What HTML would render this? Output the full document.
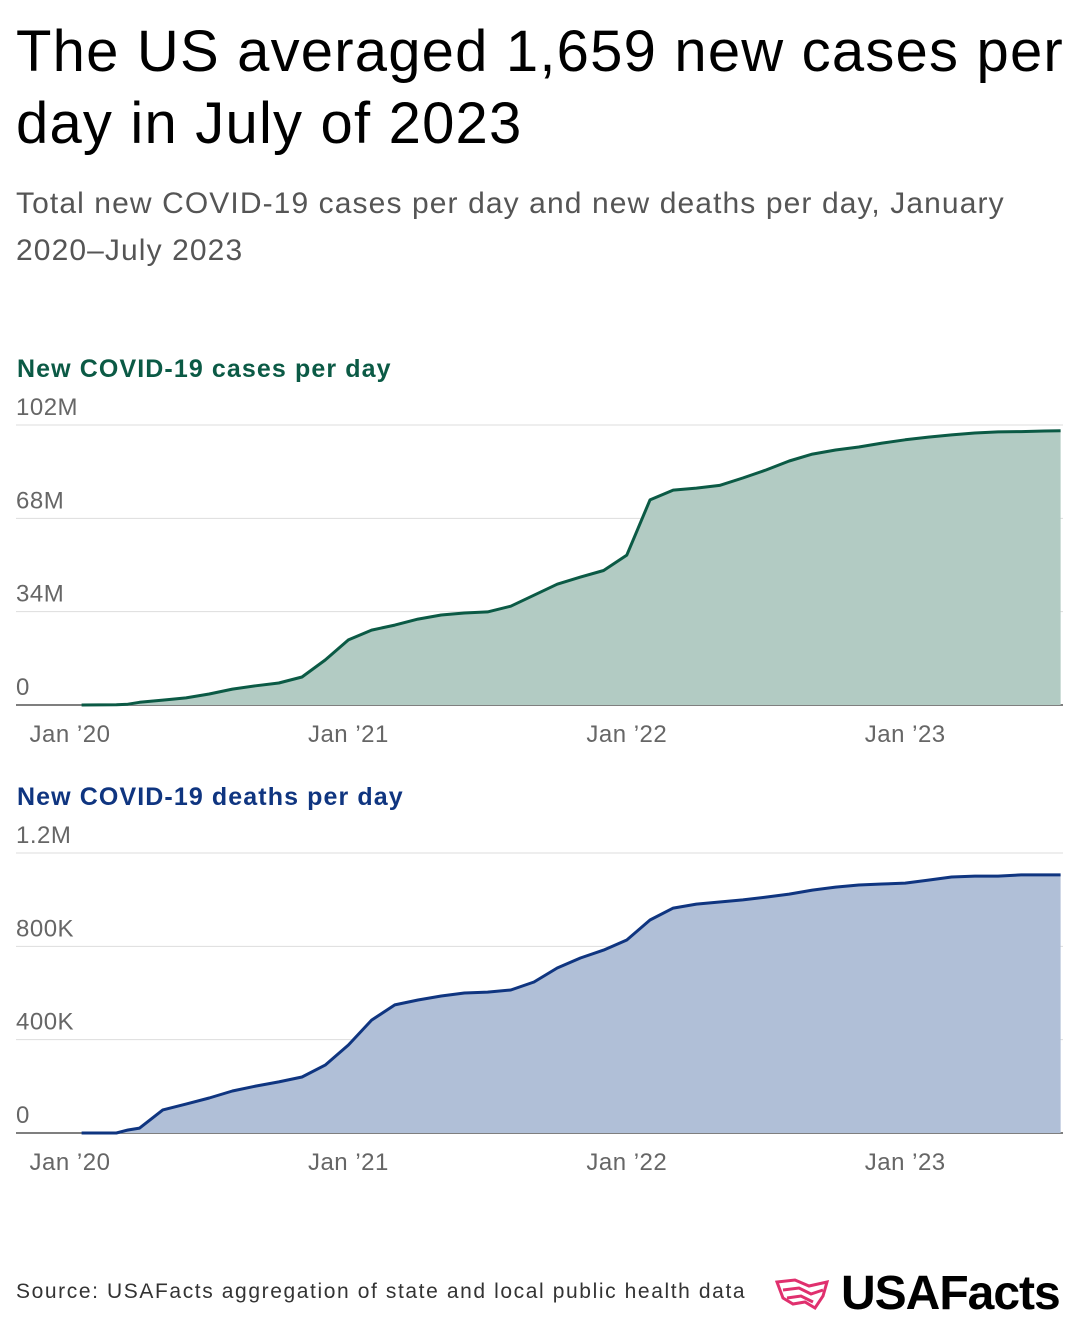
<!DOCTYPE html>
<html><head><meta charset="utf-8">
<style>
body{margin:0;width:1080px;height:1328px;background:#fff;font-family:"Liberation Sans",sans-serif;overflow:hidden;position:relative}
#title{position:absolute;left:16px;top:16px;font-size:58px;line-height:72px;color:#000;font-weight:500;letter-spacing:1.2px;width:1070px;white-space:nowrap}
#sub{position:absolute;left:16px;top:180px;font-size:30px;line-height:47px;color:#555;width:1060px;letter-spacing:1.1px;white-space:nowrap}
#src{position:absolute;left:16px;top:1280px;font-size:21px;color:#333;letter-spacing:1.6px;white-space:nowrap}
#logo{position:absolute;left:775px;top:1266px;display:flex;align-items:center}
#logo span{font-size:48px;font-weight:bold;color:#000;letter-spacing:-1px;margin-left:10px}
svg text{font-family:"Liberation Sans",sans-serif}
</style></head><body>
<div id="title">The US averaged 1,659 new cases per<br>day in July of 2023</div>
<div id="sub">Total new COVID-19 cases per day and new deaths per day, January<br>2020–July 2023</div>
<svg id="chart" width="1080" height="1328" style="position:absolute;left:0;top:0"></svg>
<div id="src">Source: USAFacts aggregation of state and local public health data</div>
<div id="logo">
<svg width="56" height="40" viewBox="0 0 56 40"><g fill="none" stroke="#e0306e" stroke-width="3"><path d="M2 8 L20 6 L34 12 L52 8 L48 22 L40 34 L30 28 L18 30 L8 24 Z"/><path d="M8 16 L24 14 L36 20 L48 16"/><path d="M12 24 L26 22 L38 28"/></g></svg>
<span>USAFacts</span></div>
<script>
const months=[0.5,2,2.5,3,4,5,6,7,8,9,10,11,12,13,14,15,16,17,18,19,20,21,22,23,24,25,26,27,28,29,30,31,32,33,34,35,36,37,38,39,40,41,42,42.7];
const cases=[0,0.1,0.3,1,1.8,2.6,4,5.8,7,8,10.2,16.4,23.7,27.3,29.1,31.3,32.8,33.5,33.9,36,40,44,46.6,49,54.6,74.7,78.3,79,80,82.7,85.6,88.9,91.4,92.9,94,95.4,96.6,97.6,98.4,99.1,99.5,99.6,99.8,99.9];
const deaths=[0,0,13,21,99,124,150,180,201,219,240,291,377,484,549,570,587,600,604,613,647,707,750,784,827,913,964,981,990,999,1011,1024,1041,1054,1063,1067,1071,1084,1097,1101,1101,1106,1106,1106];
const caseTicks=[0,34,68,102];
const caseTickLabels=["0","34M","68M","102M"];
const deathTicks=[0,400,800,1200];
const deathTickLabels=["0","400K","800K","1.2M"];
const xTickMonths=[0,12,24,36];
const xTickLabels=["Jan ’20","Jan ’21","Jan ’22","Jan ’23"];
const NS="http://www.w3.org/2000/svg";
const svg=document.getElementById('chart');
function el(t,a,p){const e=document.createElementNS(NS,t);for(const k in a)e.setAttribute(k,a[k]);(p||svg).appendChild(e);return e;}
const xs=m=>70+m*23.2;
function chart(o){
  const y=v=>o.y0-(v/o.max)*(o.y0-o.y1);
  const g=el('g',{});
  
  
  const t=el('text',{x:17,y:o.y1-48,'font-size':25,'font-weight':'bold',fill:o.color,'letter-spacing':1.1},g);t.textContent=o.label;
  
  
  o.ticks.forEach((v,i)=>{
    const l=el('line',{x1:16,x2:1063,y1:y(v),y2:y(v),stroke:i==0?'#555':'#ddd','stroke-width':i==0?1.5:1},g);
    
    
    const tx=el('text',{x:16,y:y(v)-10,'font-size':24,fill:'#666','letter-spacing':0.5},g);tx.textContent=o.tickLabels[i];
    
    
  });
  xTickMonths.forEach((m,i)=>{
    const tx=el('text',{x:xs(m),y:o.y0+37,'font-size':24,fill:'#666','text-anchor':'middle','letter-spacing':0.5},g);tx.textContent=xTickLabels[i];
    
    
  });
  let d='';months.forEach((m,i)=>{d+=(i?'L':'M')+xs(m).toFixed(1)+' '+y(o.data[i]).toFixed(1);});
  const a=el('path',{d:d+`L${xs(months[months.length-1])} ${o.y0}L${xs(months[0])} ${o.y0}Z`,fill:o.fill},g);
  
  
  const p=el('path',{d:d,fill:'none',stroke:o.color,'stroke-width':3,'stroke-linejoin':'round'},g);
  
  
}
chart({name:'cases-chart',label:'New COVID-19 cases per day',color:'#0b5a45',fill:'#b2cbc3',data:cases,max:102,ticks:caseTicks,tickLabels:caseTickLabels,y0:705,y1:425});
chart({name:'deaths-chart',label:'New COVID-19 deaths per day',color:'#0f3580',fill:'#b0bfd7',data:deaths,max:1200,ticks:deathTicks,tickLabels:deathTickLabels,y0:1133,y1:853});
</script>
</body></html>
